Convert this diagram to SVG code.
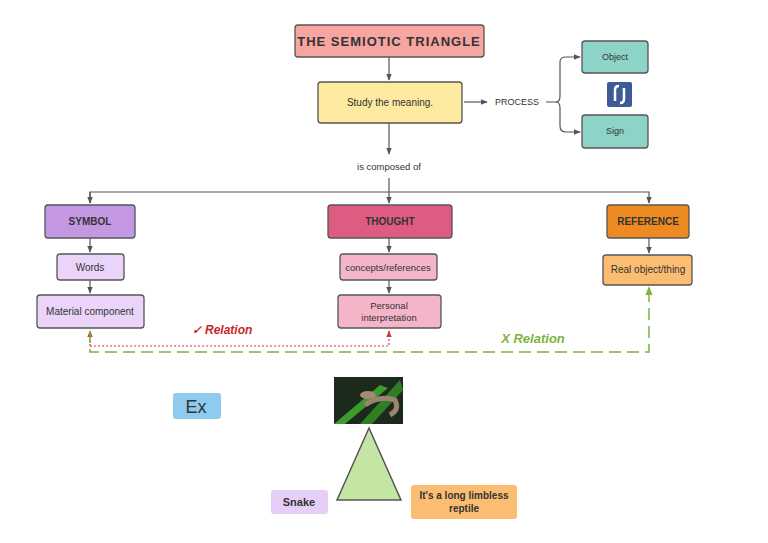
<svg xmlns="http://www.w3.org/2000/svg" width="768" height="543" viewBox="0 0 768 543">
<style>
.b{stroke:#555;stroke-width:1.3}
.t{font-family:"Liberation Sans",Arial,sans-serif;font-size:10px;fill:#333;text-anchor:middle}
.bold{font-weight:bold}
.c{fill:none;stroke:#555;stroke-width:1.2}
</style>
<defs>
<marker id="a" viewBox="0 0 10 10" refX="9" refY="5" markerWidth="6" markerHeight="6" orient="auto"><path d="M0,1L10,5L0,9z" fill="#555"/></marker>
<marker id="ar" viewBox="0 0 10 10" refX="9" refY="5" markerWidth="6" markerHeight="6" orient="auto"><path d="M0,1L10,5L0,9z" fill="#d0393a"/></marker>
<marker id="ag" viewBox="0 0 10 10" refX="9" refY="5" markerWidth="6" markerHeight="6" orient="auto"><path d="M0,1L10,5L0,9z" fill="#7cb342"/></marker>
</defs>
<rect width="768" height="543" fill="#fff"/>
<g id="connectors">
<path class="c" d="M389,57V80" marker-end="url(#a)"/>
<path class="c" d="M389,123V154" marker-end="url(#a)"/>
<path class="c" d="M464,102H487" marker-end="url(#a)"/>
<path class="c" d="M546,102H556Q560,102 560,96V62Q560,57 566,57H580" marker-end="url(#a)"/>
<path class="c" d="M556,102Q560,102 560,108V126Q560,132 566,132H580" marker-end="url(#a)"/>
<path class="c" d="M389,178V192"/>
<path class="c" d="M90,203V192H649V203" marker-end="url(#a)"/>
<path class="c" d="M90,192V203" marker-end="url(#a)"/>
<path class="c" d="M389,192V203" marker-end="url(#a)"/>
<path class="c" d="M90,238V252" marker-end="url(#a)"/>
<path class="c" d="M90,280V293" marker-end="url(#a)"/>
<path class="c" d="M389,238V252" marker-end="url(#a)"/>
<path class="c" d="M389,280V293" marker-end="url(#a)"/>
<path class="c" d="M649,238V253" marker-end="url(#a)"/>
<path d="M90,346H389V331" fill="none" stroke="#d0393a" stroke-width="1.2" stroke-dasharray="2,2" marker-end="url(#ar)"/>
<path d="M90,346V331" fill="none" stroke="#d0393a" stroke-width="1.2" stroke-dasharray="2,2" marker-end="url(#ar)"/>
<path d="M90,331V352H649V287" fill="none" stroke="#7cb342" stroke-width="1.5" stroke-dasharray="12,6" marker-end="url(#ag)"/>
<text x="222" y="334" class="t bold" style="font-size:12px;font-style:italic;fill:#c62828">✓ Relation</text>
<text x="533" y="343" class="t bold" style="font-size:13px;font-style:italic;fill:#7cb342">X Relation</text>
</g>
<g id="title"><rect x="295" y="25" width="189" height="32" rx="3" fill="#f6a5a0" class="b"/><text x="389" y="46" class="t bold" style="font-size:13px;letter-spacing:1px;fill:#333">THE SEMIOTIC TRIANGLE</text></g>
<g id="study"><rect x="318" y="82" width="144" height="41" rx="3" fill="#fdeaa0" class="b"/><text x="390" y="106" class="t">Study the meaning.</text></g>
<g id="process"><text x="517" y="105" class="t" style="font-size:9px">PROCESS</text></g>
<g id="object"><rect x="582" y="41" width="66" height="32" rx="3" fill="#8dd3c7" class="b"/><text x="615" y="60" class="t" style="font-size:9px">Object</text></g>
<g id="icon"><rect x="607" y="82" width="25" height="25" rx="2" fill="#3d5a99"/><path d="M615,101V90Q615,86 619,86M624,88V99Q624,103 620,103" fill="none" stroke="#fff" stroke-width="2.5"/></g>
<g id="sign"><rect x="582" y="115" width="66" height="33" rx="3" fill="#8dd3c7" class="b"/><text x="615" y="134" class="t" style="font-size:9px">Sign</text></g>
<g id="composed"><text x="389" y="170" class="t" style="font-size:9.5px">is composed of</text></g>
<g id="symbol"><rect x="45" y="205" width="90" height="33" rx="3" fill="#c497e3" class="b"/><text x="90" y="225" class="t bold">SYMBOL</text></g>
<g id="words"><rect x="57" y="254" width="67" height="26" rx="3" fill="#ead4fa" class="b"/><text x="90" y="271" class="t">Words</text></g>
<g id="material"><rect x="37" y="295" width="107" height="33" rx="3" fill="#ead4fa" class="b"/><text x="90" y="315" class="t">Material component</text></g>
<g id="thought"><rect x="328" y="205" width="124" height="33" rx="3" fill="#de5c81" class="b"/><text x="390" y="225" class="t bold">THOUGHT</text></g>
<g id="concepts"><rect x="340" y="254" width="97" height="26" rx="3" fill="#f5b5c8" class="b"/><text x="388" y="271" class="t" style="font-size:9.5px">concepts/references</text></g>
<g id="personal"><rect x="338" y="295" width="103" height="33" rx="3" fill="#f5b5c8" class="b"/><text x="389" y="309" class="t" style="font-size:9.5px">Personal</text><text x="389" y="321" class="t" style="font-size:9.5px">interpretation</text></g>
<g id="reference"><rect x="607" y="205" width="82" height="33" rx="3" fill="#ee8a22" class="b"/><text x="648" y="225" class="t bold">REFERENCE</text></g>
<g id="real"><rect x="603" y="255" width="89" height="30" rx="3" fill="#fbbd72" class="b"/><text x="648" y="273" class="t">Real object/thing</text></g>
<g id="ex"><rect x="173" y="393" width="48" height="26" rx="3" fill="#8fcbee"/><text x="196" y="413" class="t" style="font-size:18px">Ex</text></g>
<g id="photo"><rect x="334" y="377" width="69" height="47" fill="#1c2a1c"/><path d="M334,424L380,385L388,388L345,424Z" fill="#3f9a2e"/><path d="M360,424L400,380L403,390L372,424Z" fill="#2f7f22"/><path d="M365,405Q380,395 395,400Q400,410 390,415" fill="none" stroke="#9c8470" stroke-width="5"/><ellipse cx="368" cy="395" rx="8" ry="4" fill="#a38a76"/></g>
<g id="triangle"><path d="M369,428L401,500H337Z" fill="#c5e5a5" stroke="#555" stroke-width="1.5"/></g>
<g id="snake"><rect x="271" y="490" width="57" height="24" rx="3" fill="#e5cff8"/><text x="299" y="506" class="t bold" style="font-size:11px">Snake</text></g>
<g id="reptile"><rect x="411" y="485" width="106" height="34" rx="3" fill="#fbbd72"/><text x="464" y="499" class="t bold">It's a long limbless</text><text x="464" y="512" class="t bold">reptile</text></g>
</svg>
